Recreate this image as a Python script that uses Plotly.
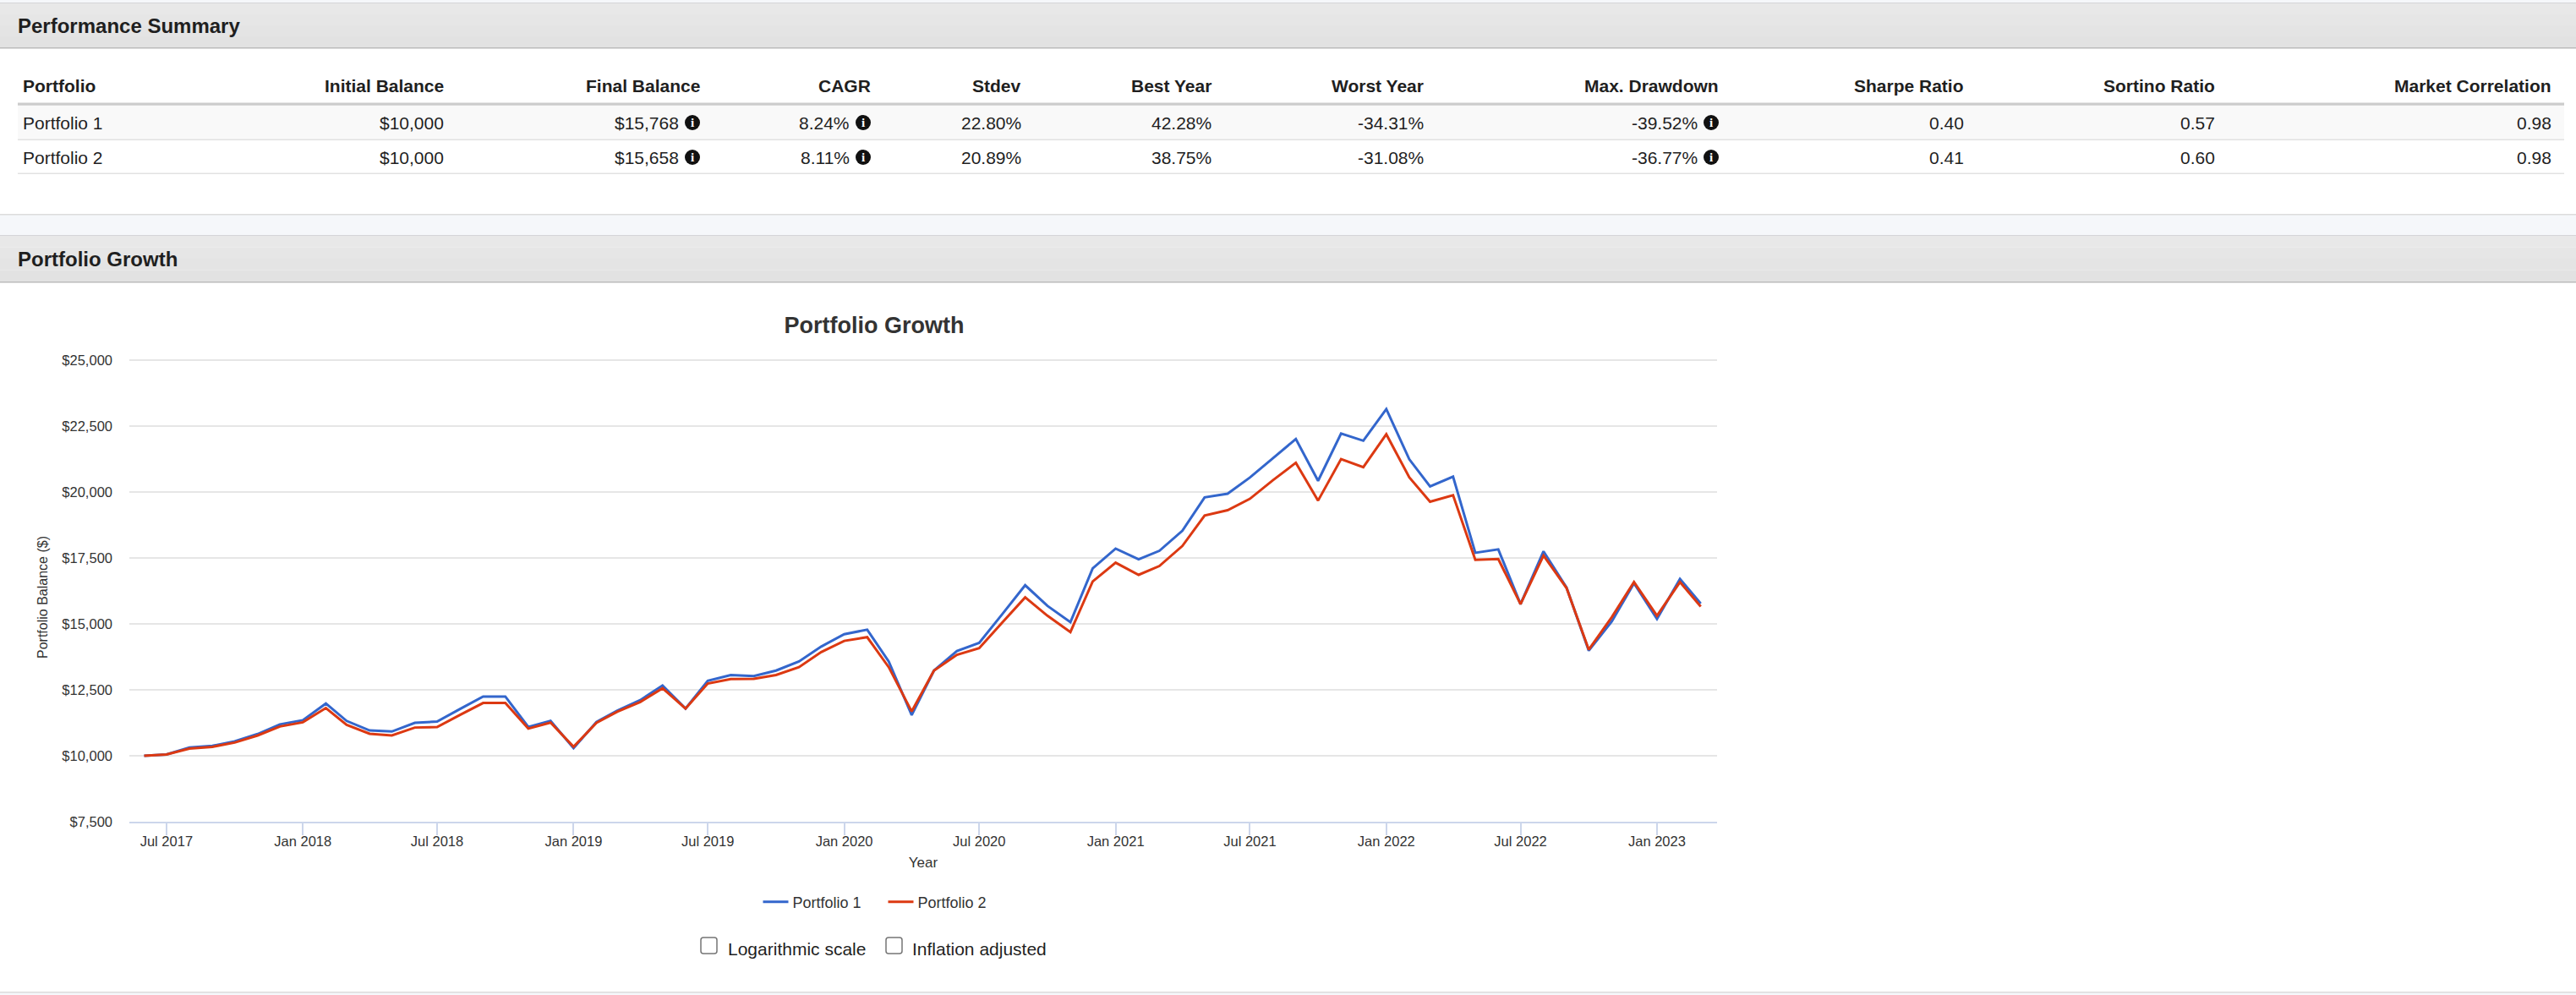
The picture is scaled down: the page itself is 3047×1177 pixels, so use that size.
import plotly.graph_objects as go

W, H = 3047, 1177
PL, PR, PT, PB = 153, 2031, 424, 972

months = (
    [f"2017-{m:02d}-01" for m in range(6, 13)]
    + [f"{y}-{m:02d}-01" for y in range(2018, 2023) for m in range(1, 13)]
    + [f"2023-{m:02d}-01" for m in range(1, 4)]
)
portfolio_1 = [10000, 10050, 10310, 10375, 10545, 10825, 11190, 11350, 11980, 11320, 10960, 10920,
               11250, 11295, 11775, 12245, 12245, 11090, 11325, 10290, 11285, 11710, 12110, 12665,
               11790, 12845, 13060, 13020, 13230, 13575, 14140, 14610, 14780, 13575, 11540, 13230,
               13970, 14280, 15365, 16465, 15685, 15065, 17100, 17855, 17450, 17770, 18530, 19795,
               19935, 20550, 21280, 22010, 20425, 22220, 21945, 23145, 21240, 20210, 20585, 17695,
               17825, 15750, 17750, 16380, 13985, 15095, 16540, 15190, 16700, 15768]
portfolio_2 = [10000, 10050, 10270, 10340, 10500, 10770, 11110, 11270, 11810, 11170, 10835, 10770,
               11070, 11090, 11550, 12000, 12000, 11030, 11260, 10340, 11250, 11670, 12040, 12560,
               11790, 12740, 12910, 12920, 13060, 13360, 13930, 14355, 14495, 13360, 11680, 13230,
               13830, 14080, 15045, 16005, 15310, 14690, 16605, 17320, 16860, 17195, 17955, 19110,
               19310, 19740, 20445, 21110, 19675, 21250, 20940, 22190, 20555, 19630, 19880, 17430,
               17460, 15750, 17590, 16360, 14025, 15255, 16585, 15310, 16585, 15658]
x_tick_dates = ["2017-07-01", "2018-01-01", "2018-07-01", "2019-01-01", "2019-07-01", "2020-01-01",
                "2020-07-01", "2021-01-01", "2021-07-01", "2022-01-01", "2022-07-01", "2023-01-01"]
x_tick_labels = ["Jul 2017", "Jan 2018", "Jul 2018", "Jan 2019", "Jul 2019", "Jan 2020",
                 "Jul 2020", "Jan 2021", "Jul 2021", "Jan 2022", "Jul 2022", "Jan 2023"]

table_headers = ["Portfolio", "Initial Balance", "Final Balance", "CAGR", "Stdev", "Best Year",
                 "Worst Year", "Max. Drawdown", "Sharpe Ratio", "Sortino Ratio", "Market Correlation"]
table_row_1 = ["Portfolio 1", "$10,000", "$15,768", "8.24%", "22.80%", "42.28%", "-34.31%", "-39.52%", "0.40", "0.57", "0.98"]
table_row_2 = ["Portfolio 2", "$10,000", "$15,658", "8.11%", "20.89%", "38.75%", "-31.08%", "-36.77%", "0.41", "0.60", "0.98"]
column_right_edges = [None, 525, 828, 1030, 1208, 1433, 1684, 2033, 2323, 2620, 3018]
columns_with_icon = [2, 3, 7]

FONT = "Liberation Sans, Arial, sans-serif"
INK = "#1f1f1f"


def px(x):
    return (x - PL) / (PR - PL)


def py(y):
    return (PB - y) / (PB - PT)


shapes, annotations = [], []


def rect(x0, y0, x1, y1, fill, layer="below"):
    shapes.append(dict(type="rect", xref="paper", yref="paper", x0=px(x0), x1=px(x1), y0=py(y0), y1=py(y1),
                       fillcolor=fill, line_width=0, layer=layer))


def text(x, y, s, size=21, bold=False, anchor="left", color=INK, family=FONT):
    annotations.append(dict(xref="paper", yref="paper", x=px(x), y=py(y), text=f"<b>{s}</b>" if bold else s,
                            showarrow=False, xanchor=anchor, yanchor="middle", borderpad=0, borderwidth=0,
                            font=dict(family=family, size=size, color=color)))


def panel_header(y0, y1, title):
    bands = ["#e8e8e8", "#e6e6e6", "#e4e4e4", "#e2e2e2"]
    step = (y1 - y0) / len(bands)
    for i, c in enumerate(bands):
        rect(0, y0 + i * step, W, y0 + (i + 1) * step, c)
    rect(0, y0 - 1, W, y0, "#d4d4d8")
    rect(0, y1, W, y1 + 1.5, "#bbbbbb")
    text(21, (y0 + y1) / 2, title, size=24, bold=True)


def info_icon(cx, cy):
    r = 9
    shapes.append(dict(type="circle", xref="paper", yref="paper", x0=px(cx - r), x1=px(cx + r),
                       y0=py(cy + r), y1=py(cy - r), fillcolor="#111111", line_width=0, layer="above"))
    text(cx, cy, "i", size=15, bold=True, anchor="center", color="#ffffff", family="Liberation Serif, serif")


def checkbox(x0, y0, size, label, label_x, label_y):
    x1, y1, r = x0 + size, y0 + size, 3
    p = lambda a, b: f"{px(a)},{py(b)}"
    path = (f"M{p(x0 + r, y0)} L{p(x1 - r, y0)} Q{p(x1, y0)} {p(x1, y0 + r)} L{p(x1, y1 - r)} Q{p(x1, y1)} {p(x1 - r, y1)} "
            f"L{p(x0 + r, y1)} Q{p(x0, y1)} {p(x0, y1 - r)} L{p(x0, y0 + r)} Q{p(x0, y0)} {p(x0 + r, y0)} Z")
    shapes.append(dict(type="path", xref="paper", yref="paper", path=path, fillcolor="#ffffff",
                       line=dict(color="#767676", width=1.5), layer="above"))
    text(label_x, label_y, label, size=21)


# page background and panels
rect(0, 0, W, 3, "#f5f7fa")
rect(0, 254, W, 279, "#f5f7fa")
rect(0, 253, W, 254.5, "#dcdcdc")
rect(0, 1174, W, H, "#f5f7fa")
rect(0, 1173, W, 1174.5, "#dcdcdc")
panel_header(4, 56, "Performance Summary")
panel_header(279, 333, "Portfolio Growth")

# table
rect(21, 125, 3033, 165, "#f9f9f9")
rect(21, 121.5, 3033, 124.7, "#cccccc")
rect(21, 164.5, 3033, 166, "#e2e2e2")
rect(21, 204.5, 3033, 206, "#e2e2e2")
for col, edge in enumerate(column_right_edges):
    if col == 0:
        text(27, 101, table_headers[0], bold=True)
        text(27, 145, table_row_1[0])
        text(27, 186, table_row_2[0])
        continue
    text(edge, 101, table_headers[col], bold=True, anchor="right")
    value_edge = edge - 25 if col in columns_with_icon else edge
    text(value_edge, 145, table_row_1[col], anchor="right")
    text(value_edge, 186, table_row_2[col], anchor="right")
    if col in columns_with_icon:
        info_icon(edge - 9, 145)
        info_icon(edge - 9, 186)

# checkboxes below the legend
checkbox(829, 1109, 19, "Logarithmic scale", 861, 1122)
checkbox(1048, 1109, 19, "Inflation adjusted", 1079, 1122)

# y axis title
annotations.append(dict(xref="paper", yref="paper", x=px(50), y=py(707), text="Portfolio Balance ($)", textangle=-90,
                        showarrow=False, xanchor="center", yanchor="middle", borderpad=0,
                        font=dict(family=FONT, size=16, color="#333333")))

fig = go.Figure()
fig.add_trace(go.Scatter(x=months, y=portfolio_1, name="Portfolio 1", mode="lines",
                         line=dict(color="#3366cc", width=3), cliponaxis=False))
fig.add_trace(go.Scatter(x=months, y=portfolio_2, name="Portfolio 2", mode="lines",
                         line=dict(color="#dc3912", width=3), cliponaxis=False))

fig.update_layout(
    width=W, height=H, autosize=False,
    margin=dict(l=PL, r=W - PR, t=PT, b=H - PB, pad=0),
    paper_bgcolor="#ffffff", plot_bgcolor="#ffffff",
    font=dict(family=FONT, color="#333333"),
    title=dict(text="<b>Portfolio Growth</b>", x=1034 / W, xanchor="center", y=1 - 385 / H, yanchor="middle",
               xref="container", yref="container", font=dict(family=FONT, size=27, color="#333333")),
    xaxis=dict(type="date", range=["2017-05-12", "2023-03-23"], tickmode="array", tickvals=x_tick_dates,
               ticktext=x_tick_labels, showgrid=False, ticks="outside", ticklen=14, tickwidth=1.5,
               tickcolor="#ccd6eb", showline=True, linecolor="#ccd6eb", linewidth=2,
               tickfont=dict(family=FONT, size=16.5, color="#333333"), ticklabelstandoff=-7,
               title=dict(text="Year", standoff=11, font=dict(family=FONT, size=17, color="#333333")), zeroline=False),
    yaxis=dict(range=[7500, 25064], dtick=2500, tick0=7500, tickformat="$,.0f", showgrid=True, gridcolor="#e6e6e6",
               gridwidth=1.5, ticks="", showline=False, zeroline=False, ticklabelstandoff=19,
               tickfont=dict(family=FONT, size=16.5, color="#333333")),
    legend=dict(orientation="h", x=px(897.5), xanchor="left", y=py(1067), yanchor="middle",
                entrywidth=103, entrywidthmode="pixels", itemwidth=30, bgcolor="rgba(0,0,0,0)",
                font=dict(family=FONT, size=18, color="#333333"), traceorder="normal"),
    shapes=shapes, annotations=annotations,
)

fig.write_html("out.html", config=dict(displayModeBar=False, responsive=False),
               post_script="document.body.style.margin='0';document.body.style.overflow='hidden';")
